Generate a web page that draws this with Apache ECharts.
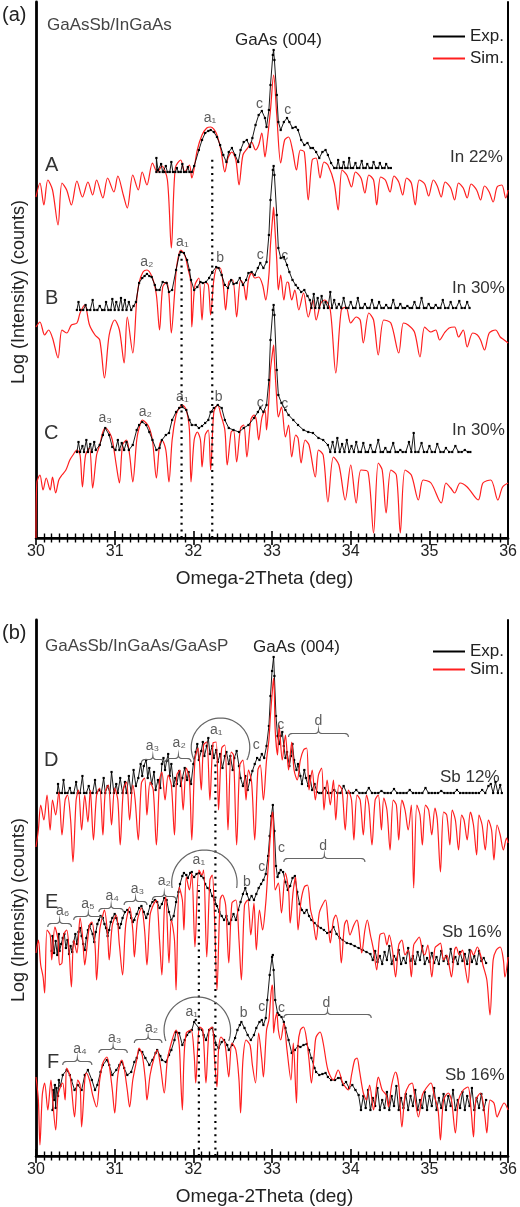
<!DOCTYPE html>
<html>
<head>
<meta charset="utf-8">
<script src="https://cdn.jsdelivr.net/npm/echarts@6/dist/echarts.min.js"></script>
<style>
  html, body { margin: 0; padding: 0; background: #fff; }
  #chart { width: 520px; height: 1207px; }
</style>
</head>
<body>
<div id="chart"></div>
<script>
// x = Omega-2Theta (deg), y = log intensity with offset (arbitrary units, 0..536 per panel)

// ---- panel (a) GaAsSb/InGaAs ----
var simA = [[30.00,341],[30.05,355],[30.10,333],[30.15,358],[30.21,348],[30.28,313],[30.33,355],[30.39,348],[30.45,333],[30.52,357],[30.59,341],[30.66,356],[30.72,343],[30.77,358],[30.85,340],[30.91,360],[30.99,346],[31.04,362],[31.11,343],[31.16,330],[31.23,363],[31.30,348],[31.35,366],[31.41,353],[31.48,375],[31.54,366],[31.60,372],[31.67,358],[31.72,290],[31.77,370],[31.84,378],[31.89,366],[31.95,373],[31.98,360],[32.05,388],[32.11,403],[32.17,410],[32.22,411],[32.29,405],[32.35,388],[32.40,366],[32.44,380],[32.49,386],[32.54,378],[32.58,353],[32.63,383],[32.69,390],[32.74,396],[32.79,388],[32.83,393],[32.87,405],[32.91,381],[32.94,398],[32.98,428],[33.02,463],[33.06,423],[33.11,375],[33.16,398],[33.21,401],[33.26,388],[33.31,368],[33.36,388],[33.41,386],[33.46,338],[33.51,378],[33.56,380],[33.61,360],[33.66,376],[33.71,373],[33.79,355],[33.84,328],[33.89,368],[33.95,363],[34.01,351],[34.06,366],[34.13,360],[34.18,345],[34.23,363],[34.29,358],[34.33,333],[34.38,361],[34.44,358],[34.50,346],[34.55,362],[34.61,356],[34.66,343],[34.71,360],[34.77,355],[34.82,333],[34.87,358],[34.94,354],[34.99,342],[35.05,358],[35.10,352],[35.15,341],[35.20,356],[35.27,350],[35.32,338],[35.37,355],[35.43,350],[35.48,340],[35.53,354],[35.60,348],[35.65,338],[35.70,352],[35.76,346],[35.81,336],[35.86,351],[35.92,353],[35.97,340],[36.00,348]];
var expA = [[31.53,366],[31.53,380],[31.55,368],[31.57,366],[31.59,374],[31.61,366],[31.63,366],[31.65,372],[31.67,366],[31.70,366],[31.72,376],[31.74,366],[31.77,366],[31.79,370],[31.81,366],[31.84,366],[31.86,374],[31.88,366],[31.91,366],[31.93,371],[31.95,366],[31.98,366],[32.01,372],[32.07,388],[32.11,398],[32.15,405],[32.19,407],[32.22,408],[32.26,406],[32.30,401],[32.34,393],[32.38,383],[32.42,376],[32.45,386],[32.49,390],[32.53,383],[32.57,376],[32.60,388],[32.64,396],[32.68,398],[32.72,391],[32.75,400],[32.79,413],[32.83,423],[32.87,427],[32.91,420],[32.93,411],[32.96,428],[32.98,453],[33.01,483],[33.02,488],[33.03,478],[33.06,443],[33.08,416],[33.11,408],[33.15,416],[33.19,420],[33.22,416],[33.26,410],[33.30,411],[33.33,408],[33.37,398],[33.41,393],[33.45,395],[33.49,390],[33.52,390],[33.56,386],[33.60,380],[33.64,386],[33.68,388],[33.71,383],[33.75,375],[33.79,370],[33.82,370],[33.84,378],[33.86,370],[33.89,370],[33.91,376],[33.93,370],[33.96,370],[33.98,380],[34.00,370],[34.03,370],[34.06,375],[34.08,370],[34.11,370],[34.14,377],[34.16,370],[34.19,370],[34.21,374],[34.24,370],[34.27,370],[34.29,376],[34.32,370],[34.35,370],[34.37,375],[34.40,370],[34.43,370],[34.45,374],[34.48,370],[34.51,370]];

var simB = [[30.00,211],[30.05,216],[30.11,203],[30.16,208],[30.21,200],[30.28,180],[30.33,208],[30.39,205],[30.45,213],[30.52,215],[30.56,225],[30.62,233],[30.68,213],[30.75,203],[30.81,198],[30.87,160],[30.93,203],[31.00,218],[31.06,208],[31.12,175],[31.16,221],[31.23,185],[31.28,238],[31.31,255],[31.36,266],[31.41,268],[31.48,260],[31.53,243],[31.57,208],[31.61,251],[31.66,256],[31.69,243],[31.72,205],[31.76,243],[31.79,273],[31.84,288],[31.89,283],[31.93,270],[31.97,255],[31.98,211],[32.02,253],[32.07,260],[32.11,218],[32.15,256],[32.19,253],[32.22,223],[32.26,258],[32.30,270],[32.34,270],[32.38,253],[32.41,228],[32.45,256],[32.50,258],[32.55,221],[32.60,258],[32.64,253],[32.67,238],[32.70,258],[32.74,265],[32.78,260],[32.83,261],[32.88,253],[32.92,238],[32.96,263],[32.98,293],[33.01,323],[33.02,331],[33.03,318],[33.06,278],[33.08,248],[33.11,263],[33.15,238],[33.19,256],[33.21,255],[33.25,238],[33.29,248],[33.34,228],[33.40,245],[33.46,221],[33.52,238],[33.56,218],[33.62,235],[33.67,238],[33.74,228],[33.81,165],[33.88,228],[33.94,231],[34.00,215],[34.07,221],[34.12,218],[34.16,195],[34.23,225],[34.29,218],[34.35,183],[34.42,218],[34.51,215],[34.61,185],[34.67,215],[34.73,213],[34.81,206],[34.88,181],[34.94,211],[35.02,206],[35.08,208],[35.13,198],[35.19,205],[35.25,210],[35.32,211],[35.37,201],[35.43,208],[35.48,191],[35.55,205],[35.61,203],[35.65,198],[35.70,188],[35.76,205],[35.84,208],[35.90,201],[35.95,198],[36.00,195]];
var expB = [[30.52,228],[30.54,236],[30.56,228],[30.60,228],[30.63,233],[30.65,228],[30.69,228],[30.72,238],[30.74,228],[30.78,228],[30.81,232],[30.84,228],[30.87,228],[30.89,236],[30.92,228],[30.95,228],[30.97,239],[31.00,228],[31.02,236],[31.05,228],[31.08,240],[31.10,228],[31.13,238],[31.15,228],[31.18,236],[31.21,228],[31.24,232],[31.27,236],[31.31,255],[31.35,260],[31.38,262],[31.41,264],[31.44,262],[31.47,261],[31.51,253],[31.53,248],[31.57,248],[31.61,256],[31.66,255],[31.69,246],[31.73,248],[31.78,268],[31.82,283],[31.84,286],[31.88,285],[31.92,278],[31.95,268],[31.97,258],[32.01,248],[32.05,251],[32.09,256],[32.12,255],[32.16,256],[32.20,260],[32.24,266],[32.29,271],[32.32,270],[32.36,263],[32.40,253],[32.44,250],[32.48,258],[32.51,254],[32.55,255],[32.59,260],[32.63,253],[32.67,258],[32.70,265],[32.74,266],[32.78,263],[32.82,270],[32.85,275],[32.89,270],[32.93,276],[32.96,303],[32.98,338],[33.01,368],[33.02,372],[33.03,363],[33.06,323],[33.08,290],[33.11,280],[33.15,281],[33.19,273],[33.22,266],[33.26,258],[33.30,253],[33.33,250],[33.37,246],[33.41,248],[33.45,242],[33.48,238],[33.50,230],[33.53,244],[33.55,230],[33.58,240],[33.60,230],[33.63,242],[33.66,230],[33.68,236],[33.71,230],[33.74,246],[33.76,230],[33.79,238],[33.82,230],[33.85,234],[33.88,230],[33.91,240],[33.94,230],[33.97,230],[34.00,236],[34.03,230],[34.06,230],[34.09,240],[34.12,230],[34.15,230],[34.18,234],[34.21,230],[34.24,230],[34.27,238],[34.30,230],[34.33,230],[34.36,236],[34.39,230],[34.42,230],[34.45,233],[34.48,230],[34.51,230],[34.54,238],[34.57,230],[34.60,230],[34.63,234],[34.66,230],[34.69,230],[34.72,232],[34.75,230],[34.78,230],[34.81,236],[34.84,230],[34.87,230],[34.90,240],[34.93,230],[34.96,230],[34.99,234],[35.02,230],[35.05,230],[35.08,233],[35.11,230],[35.14,230],[35.17,238],[35.20,230],[35.24,230],[35.27,236],[35.30,230],[35.34,230],[35.38,237],[35.41,230],[35.45,230],[35.48,236],[35.51,230]];

var simC = [[30.00,0],[30.01,55],[30.05,63],[30.09,48],[30.13,60],[30.18,48],[30.21,61],[30.25,45],[30.29,58],[30.33,63],[30.38,68],[30.43,78],[30.47,83],[30.52,88],[30.56,83],[30.59,51],[30.63,83],[30.68,90],[30.72,50],[30.77,83],[30.81,93],[30.85,106],[30.88,110],[30.93,106],[30.97,98],[31.02,73],[31.06,55],[31.10,93],[31.15,98],[31.19,83],[31.23,56],[31.28,98],[31.31,110],[31.35,118],[31.40,115],[31.44,110],[31.48,98],[31.53,60],[31.57,93],[31.60,98],[31.65,88],[31.69,56],[31.73,98],[31.78,123],[31.82,130],[31.86,133],[31.91,128],[31.95,108],[31.97,56],[32.01,98],[32.05,106],[32.09,98],[32.11,71],[32.15,103],[32.19,108],[32.22,68],[32.26,126],[32.31,133],[32.35,123],[32.40,108],[32.43,73],[32.48,106],[32.51,108],[32.55,76],[32.60,110],[32.64,113],[32.68,81],[32.73,118],[32.77,123],[32.80,118],[32.83,98],[32.87,120],[32.91,128],[32.93,108],[32.96,138],[32.98,168],[33.01,188],[33.02,193],[33.03,178],[33.06,138],[33.08,121],[33.12,131],[33.17,101],[33.21,113],[33.25,81],[33.30,103],[33.33,100],[33.37,75],[33.42,98],[33.47,93],[33.55,61],[33.59,88],[33.65,83],[33.71,36],[33.78,81],[33.85,73],[33.93,38],[34.00,73],[34.07,35],[34.13,68],[34.22,66],[34.29,5],[34.35,75],[34.40,68],[34.45,25],[34.51,68],[34.58,63],[34.63,5],[34.69,68],[34.77,63],[34.86,38],[34.92,58],[35.02,55],[35.15,35],[35.21,55],[35.27,50],[35.32,45],[35.39,55],[35.48,51],[35.62,38],[35.68,55],[35.78,58],[35.87,38],[35.93,51],[36.00,55]];
var expC = [[30.52,86],[30.54,96],[30.56,86],[30.59,92],[30.61,86],[30.64,98],[30.66,86],[30.69,94],[30.71,86],[30.74,96],[30.76,88],[30.81,93],[30.85,103],[30.88,110],[30.93,103],[30.97,91],[31.01,88],[31.04,98],[31.06,88],[31.09,95],[31.12,88],[31.15,96],[31.18,88],[31.23,93],[31.28,108],[31.31,113],[31.35,116],[31.40,113],[31.44,106],[31.48,98],[31.53,88],[31.57,90],[31.60,98],[31.65,103],[31.69,105],[31.73,118],[31.78,126],[31.82,130],[31.86,131],[31.91,128],[31.95,118],[31.98,113],[32.03,113],[32.07,110],[32.11,112],[32.15,115],[32.19,118],[32.22,126],[32.26,130],[32.31,133],[32.36,130],[32.40,118],[32.45,110],[32.51,108],[32.58,106],[32.64,110],[32.70,113],[32.77,120],[32.82,126],[32.85,130],[32.89,126],[32.93,133],[32.96,158],[32.98,198],[33.01,228],[33.02,233],[33.03,223],[33.06,168],[33.08,143],[33.12,135],[33.17,128],[33.21,123],[33.27,118],[33.33,113],[33.40,108],[33.46,106],[33.52,105],[33.59,100],[33.65,98],[33.71,93],[33.74,86],[33.77,96],[33.80,86],[33.83,100],[33.86,86],[33.89,94],[33.92,86],[33.95,98],[33.98,86],[34.01,92],[34.04,86],[34.07,96],[34.10,86],[34.13,86],[34.16,95],[34.19,86],[34.22,86],[34.25,93],[34.28,86],[34.31,86],[34.35,98],[34.38,86],[34.41,86],[34.44,90],[34.47,86],[34.50,86],[34.54,95],[34.57,86],[34.60,86],[34.63,88],[34.66,86],[34.70,86],[34.74,96],[34.77,86],[34.80,105],[34.82,86],[34.86,86],[34.90,95],[34.93,86],[34.97,86],[35.00,92],[35.03,86],[35.07,86],[35.10,94],[35.14,86],[35.18,86],[35.21,90],[35.25,86],[35.29,86],[35.33,92],[35.37,86],[35.41,86],[35.45,88],[35.49,86],[35.52,86]];

// ---- panel (b) GaAsSb/InGaAs/GaAsP ----
var simD = [[30.00,309],[30.03,326],[30.06,351],[30.10,336],[30.14,361],[30.18,326],[30.21,356],[30.25,341],[30.29,364],[30.33,321],[30.37,356],[30.40,361],[30.44,336],[30.47,294],[30.51,356],[30.54,366],[30.58,326],[30.62,361],[30.66,334],[30.69,366],[30.73,316],[30.77,361],[30.81,368],[30.85,321],[30.88,364],[30.92,371],[30.96,331],[31.00,368],[31.04,356],[31.07,311],[31.11,366],[31.15,374],[31.19,336],[31.23,371],[31.26,356],[31.30,316],[31.34,373],[31.38,378],[31.41,341],[31.45,374],[31.49,366],[31.53,311],[31.57,376],[31.60,384],[31.64,356],[31.68,381],[31.72,371],[31.76,321],[31.79,381],[31.83,386],[31.87,346],[31.91,388],[31.95,376],[31.98,316],[32.02,396],[32.06,408],[32.10,366],[32.13,411],[32.17,414],[32.21,356],[32.25,413],[32.29,414],[32.32,346],[32.36,408],[32.40,411],[32.44,326],[32.48,404],[32.51,401],[32.55,311],[32.59,391],[32.63,396],[32.67,356],[32.70,386],[32.74,374],[32.78,316],[32.82,386],[32.85,391],[32.89,356],[32.93,396],[32.96,416],[32.98,441],[33.01,471],[33.02,478],[33.03,461],[33.04,426],[33.07,401],[33.09,431],[33.13,396],[33.17,421],[33.21,386],[33.25,414],[33.28,386],[33.32,376],[33.36,396],[33.40,406],[33.44,408],[33.47,366],[33.51,386],[33.55,356],[33.59,381],[33.63,388],[33.66,346],[33.70,376],[33.74,351],[33.78,376],[33.81,336],[33.85,371],[33.89,366],[33.93,326],[33.97,366],[34.01,356],[34.04,316],[34.08,361],[34.12,356],[34.16,321],[34.20,361],[34.23,351],[34.27,311],[34.31,356],[34.35,361],[34.39,326],[34.42,358],[34.46,346],[34.50,306],[34.54,356],[34.58,351],[34.61,316],[34.65,356],[34.69,346],[34.73,326],[34.77,351],[34.80,268],[34.84,351],[34.88,341],[34.91,311],[34.95,351],[34.99,346],[35.03,321],[35.07,348],[35.10,336],[35.14,284],[35.18,344],[35.22,341],[35.26,311],[35.29,346],[35.33,336],[35.37,306],[35.41,341],[35.44,336],[35.48,316],[35.52,344],[35.56,331],[35.60,301],[35.63,341],[35.67,331],[35.71,306],[35.75,336],[35.79,326],[35.82,296],[35.86,331],[35.90,321],[35.94,306],[35.98,318],[36.00,313]];
var expD = [[30.27,363],[30.28,372],[30.30,363],[30.33,363],[30.35,376],[30.37,363],[30.40,363],[30.43,368],[30.45,363],[30.48,363],[30.51,374],[30.53,363],[30.56,363],[30.59,380],[30.61,363],[30.64,363],[30.67,370],[30.69,363],[30.72,363],[30.75,376],[30.77,363],[30.80,366],[30.83,363],[30.86,378],[30.88,363],[30.91,370],[30.94,363],[30.96,384],[30.99,363],[31.02,372],[31.04,363],[31.07,378],[31.10,363],[31.13,374],[31.15,363],[31.18,380],[31.21,363],[31.24,386],[31.27,370],[31.30,378],[31.33,392],[31.35,380],[31.37,390],[31.40,396],[31.42,378],[31.44,388],[31.47,372],[31.50,384],[31.52,366],[31.55,376],[31.58,368],[31.60,392],[31.62,398],[31.64,386],[31.66,395],[31.68,402],[31.70,380],[31.72,392],[31.75,370],[31.77,378],[31.79,372],[31.82,385],[31.84,370],[31.86,378],[31.89,388],[31.92,376],[31.94,384],[31.97,372],[32.00,392],[32.03,404],[32.05,412],[32.07,396],[32.10,405],[32.12,414],[32.14,400],[32.17,410],[32.19,418],[32.21,402],[32.24,410],[32.26,398],[32.29,406],[32.31,394],[32.34,402],[32.37,388],[32.40,400],[32.42,404],[32.45,392],[32.47,400],[32.50,386],[32.52,398],[32.55,405],[32.58,390],[32.60,378],[32.63,370],[32.66,380],[32.69,366],[32.72,376],[32.75,385],[32.78,392],[32.81,398],[32.84,396],[32.87,402],[32.90,398],[32.93,410],[32.96,430],[32.98,460],[33.00,485],[33.02,499],[33.03,480],[33.05,440],[33.07,420],[33.09,412],[33.11,420],[33.13,424],[33.15,410],[33.17,398],[33.19,404],[33.22,390],[33.24,400],[33.26,412],[33.28,396],[33.31,386],[33.33,392],[33.36,380],[33.38,372],[33.41,386],[33.43,378],[33.46,370],[33.48,380],[33.51,366],[33.54,372],[33.57,364],[33.60,363],[33.63,363],[33.67,368],[33.71,363],[33.75,363],[33.79,366],[33.83,363],[33.87,363],[33.91,370],[33.95,363],[33.99,363],[34.03,363],[34.07,366],[34.11,363],[34.15,363],[34.19,363],[34.23,368],[34.27,363],[34.31,363],[34.35,363],[34.39,365],[34.43,363],[34.47,363],[34.51,363],[34.55,367],[34.59,363],[34.63,363],[34.67,363],[34.71,363],[34.75,366],[34.79,363],[34.83,363],[34.87,363],[34.91,363],[34.95,368],[34.99,363],[35.03,363],[35.07,363],[35.11,363],[35.15,365],[35.19,363],[35.23,363],[35.27,363],[35.31,363],[35.35,366],[35.39,363],[35.43,363],[35.47,363],[35.51,363],[35.55,363],[35.59,363],[35.63,363],[35.67,366],[35.71,363],[35.75,370],[35.78,372],[35.81,363],[35.84,374],[35.87,363],[35.90,371],[35.92,363]];

var simE = [[30.00,203],[30.03,216],[30.06,191],[30.09,179],[30.11,163],[30.14,226],[30.18,221],[30.20,196],[30.24,229],[30.28,216],[30.30,191],[30.33,193],[30.35,221],[30.39,226],[30.42,206],[30.45,169],[30.48,216],[30.52,203],[30.56,238],[30.59,221],[30.62,191],[30.64,203],[30.68,231],[30.71,234],[30.75,211],[30.77,176],[30.81,226],[30.85,241],[30.87,246],[30.91,221],[30.93,196],[30.97,231],[31.02,241],[31.06,211],[31.10,181],[31.14,231],[31.19,249],[31.23,226],[31.25,199],[31.29,236],[31.34,248],[31.38,226],[31.41,191],[31.45,241],[31.49,251],[31.53,256],[31.57,216],[31.60,181],[31.63,246],[31.65,259],[31.69,193],[31.72,236],[31.76,216],[31.78,166],[31.82,269],[31.86,256],[31.88,226],[31.91,279],[31.95,266],[31.98,283],[32.02,209],[32.07,286],[32.11,281],[32.13,286],[32.17,199],[32.21,276],[32.24,281],[32.27,236],[32.30,166],[32.34,256],[32.37,261],[32.41,251],[32.45,193],[32.49,253],[32.54,256],[32.58,216],[32.61,176],[32.65,251],[32.69,256],[32.73,221],[32.77,253],[32.80,206],[32.84,246],[32.88,226],[32.92,253],[32.94,276],[32.97,311],[33.00,341],[33.01,344],[33.02,316],[33.04,266],[33.08,273],[33.12,243],[33.17,283],[33.21,266],[33.23,233],[33.27,266],[33.30,279],[33.33,226],[33.37,256],[33.41,269],[33.45,271],[33.49,246],[33.52,236],[33.56,216],[33.60,243],[33.64,251],[33.68,256],[33.71,236],[33.74,213],[33.78,236],[33.81,241],[33.85,226],[33.88,193],[33.92,231],[33.95,236],[33.99,221],[34.04,231],[34.08,236],[34.10,229],[34.14,203],[34.18,226],[34.21,236],[34.25,221],[34.29,206],[34.33,186],[34.37,221],[34.42,223],[34.46,211],[34.49,221],[34.53,206],[34.57,179],[34.61,211],[34.65,216],[34.69,201],[34.73,206],[34.77,179],[34.80,211],[34.84,216],[34.87,219],[34.91,206],[34.94,201],[34.98,211],[35.03,179],[35.07,208],[35.11,211],[35.14,213],[35.18,196],[35.22,201],[35.25,191],[35.28,179],[35.32,206],[35.34,209],[35.38,201],[35.42,206],[35.45,191],[35.49,173],[35.53,206],[35.56,201],[35.61,209],[35.65,201],[35.68,191],[35.73,176],[35.77,141],[35.81,196],[35.85,206],[35.90,209],[35.94,196],[35.96,179],[36.00,199]];
var expE = [[30.20,205],[30.21,220],[30.23,203],[30.25,215],[30.27,201],[30.29,222],[30.30,205],[30.32,212],[30.34,218],[30.36,222],[30.38,208],[30.40,216],[30.42,202],[30.44,210],[30.46,204],[30.48,214],[30.50,222],[30.52,212],[30.54,224],[30.56,228],[30.58,220],[30.60,212],[30.62,206],[30.64,218],[30.66,226],[30.68,230],[30.70,232],[30.72,222],[30.74,214],[30.76,224],[30.78,232],[30.80,236],[30.82,240],[30.85,238],[30.87,232],[30.89,228],[30.91,220],[30.93,226],[30.95,234],[30.97,238],[31.00,242],[31.02,238],[31.04,232],[31.06,228],[31.08,232],[31.10,238],[31.13,244],[31.16,246],[31.19,244],[31.21,238],[31.23,234],[31.25,236],[31.28,242],[31.31,248],[31.34,250],[31.37,244],[31.40,238],[31.42,242],[31.45,250],[31.48,254],[31.51,256],[31.54,254],[31.57,248],[31.60,252],[31.63,258],[31.66,256],[31.69,244],[31.72,236],[31.75,240],[31.78,254],[31.81,264],[31.83,272],[31.86,280],[31.88,283],[31.91,281],[31.93,278],[31.96,283],[31.98,284],[32.01,279],[32.04,282],[32.07,283],[32.10,280],[32.13,278],[32.15,272],[32.18,268],[32.21,266],[32.24,260],[32.27,256],[32.30,250],[32.33,244],[32.36,240],[32.39,236],[32.42,240],[32.45,232],[32.48,236],[32.51,242],[32.54,236],[32.57,246],[32.60,254],[32.63,262],[32.66,268],[32.68,262],[32.71,256],[32.74,260],[32.77,256],[32.80,262],[32.83,268],[32.86,272],[32.89,276],[32.92,282],[32.95,300],[32.97,320],[32.99,340],[33.01,351],[33.03,325],[33.05,290],[33.07,279],[33.09,283],[33.11,286],[33.14,284],[33.17,274],[33.20,266],[33.23,270],[33.26,278],[33.29,280],[33.32,264],[33.35,252],[33.38,246],[33.41,243],[33.44,246],[33.47,240],[33.50,236],[33.54,233],[33.58,230],[33.62,228],[33.66,226],[33.70,223],[33.74,224],[33.78,229],[33.82,222],[33.86,218],[33.90,216],[33.95,213],[34.00,212],[34.05,210],[34.10,208],[34.15,206],[34.20,204],[34.25,202],[34.28,196],[34.31,205],[34.34,194],[34.37,200],[34.40,192],[34.43,204],[34.46,196],[34.49,210],[34.52,192],[34.55,200],[34.58,196],[34.61,206],[34.64,192],[34.67,198],[34.70,193],[34.73,208],[34.76,195],[34.79,200],[34.82,192],[34.85,204],[34.88,196],[34.91,210],[34.94,192],[34.97,198],[35.00,194],[35.03,203],[35.06,193],[35.09,199],[35.12,192],[35.15,205],[35.18,195],[35.21,200],[35.24,192],[35.27,207],[35.30,194],[35.33,199],[35.36,192],[35.39,204],[35.42,195],[35.45,202],[35.48,192],[35.51,206],[35.54,194],[35.57,200],[35.60,192],[35.63,205],[35.66,195],[35.69,198],[35.72,193]];

var simF = [[30.00,79],[30.03,56],[30.05,11],[30.08,61],[30.11,73],[30.15,46],[30.19,76],[30.21,58],[30.25,26],[30.28,61],[30.32,71],[30.34,73],[30.37,56],[30.39,88],[30.43,81],[30.45,69],[30.49,39],[30.53,76],[30.56,71],[30.58,29],[30.62,76],[30.64,83],[30.68,76],[30.72,61],[30.77,49],[30.81,76],[30.85,93],[30.90,99],[30.93,91],[30.97,66],[31.00,43],[31.04,81],[31.09,96],[31.12,88],[31.16,66],[31.19,49],[31.23,76],[31.28,96],[31.31,108],[31.35,101],[31.39,76],[31.41,56],[31.45,81],[31.50,98],[31.54,106],[31.58,91],[31.63,63],[31.67,96],[31.73,116],[31.78,126],[31.82,111],[31.84,76],[31.86,46],[31.88,96],[31.91,123],[31.97,126],[32.01,101],[32.03,73],[32.06,116],[32.08,129],[32.12,126],[32.16,73],[32.20,126],[32.24,129],[32.27,96],[32.30,69],[32.32,106],[32.35,119],[32.40,113],[32.45,79],[32.49,113],[32.54,106],[32.58,76],[32.60,43],[32.63,96],[32.67,116],[32.72,111],[32.75,91],[32.79,73],[32.83,123],[32.87,96],[32.89,79],[32.93,126],[32.96,136],[32.98,156],[33.00,171],[33.01,166],[33.02,123],[33.04,136],[33.06,143],[33.08,126],[33.11,116],[33.15,133],[33.19,106],[33.24,76],[33.27,113],[33.31,53],[33.33,111],[33.36,126],[33.40,129],[33.44,116],[33.47,96],[33.50,73],[33.54,106],[33.56,119],[33.61,124],[33.65,113],[33.71,86],[33.78,76],[33.84,86],[33.90,73],[33.97,66],[34.01,81],[34.05,96],[34.08,98],[34.11,86],[34.16,63],[34.20,56],[34.24,71],[34.29,46],[34.33,71],[34.35,79],[34.40,66],[34.45,61],[34.48,49],[34.52,71],[34.57,84],[34.61,71],[34.65,29],[34.69,61],[34.74,71],[34.78,73],[34.81,61],[34.86,39],[34.91,61],[34.96,68],[35.02,73],[35.06,61],[35.11,46],[35.14,16],[35.18,56],[35.24,63],[35.28,56],[35.33,23],[35.37,56],[35.43,66],[35.49,69],[35.53,46],[35.56,19],[35.59,56],[35.65,63],[35.70,43],[35.73,23],[35.77,56],[35.82,53],[35.86,39],[35.90,46],[35.95,53],[36.00,46]];
var expF = [[30.21,46],[30.22,66],[30.23,56],[30.24,71],[30.25,48],[30.26,68],[30.28,60],[30.29,76],[30.31,70],[30.34,81],[30.39,86],[30.43,81],[30.45,76],[30.49,66],[30.53,71],[30.58,66],[30.62,81],[30.66,86],[30.71,76],[30.75,66],[30.78,71],[30.82,84],[30.85,91],[30.90,96],[30.93,91],[30.97,81],[31.02,86],[31.06,91],[31.09,94],[31.12,88],[31.16,81],[31.21,84],[31.25,94],[31.28,98],[31.31,106],[31.35,104],[31.39,98],[31.44,91],[31.48,96],[31.52,103],[31.54,106],[31.58,100],[31.60,96],[31.65,94],[31.69,101],[31.72,106],[31.76,116],[31.78,124],[31.82,123],[31.86,111],[31.89,116],[31.92,121],[31.95,124],[31.98,126],[32.01,134],[32.03,136],[32.07,128],[32.11,126],[32.13,121],[32.16,116],[32.20,126],[32.24,128],[32.26,121],[32.29,111],[32.32,108],[32.36,114],[32.39,116],[32.43,111],[32.45,106],[32.49,111],[32.53,118],[32.56,126],[32.59,131],[32.61,134],[32.65,128],[32.69,121],[32.73,116],[32.77,121],[32.80,128],[32.84,134],[32.87,136],[32.89,131],[32.92,138],[32.94,156],[32.97,181],[33.00,199],[33.01,201],[33.02,186],[33.04,156],[33.07,143],[33.09,141],[33.12,139],[33.15,134],[33.17,128],[33.21,116],[33.25,103],[33.29,106],[33.33,110],[33.36,109],[33.40,111],[33.44,112],[33.47,106],[33.50,98],[33.54,88],[33.56,84],[33.60,81],[33.64,82],[33.68,83],[33.71,79],[33.75,76],[33.80,76],[33.84,78],[33.87,78],[33.90,71],[33.94,74],[33.98,68],[34.02,71],[34.06,66],[34.10,61],[34.13,46],[34.16,60],[34.19,48],[34.22,66],[34.25,46],[34.28,58],[34.31,50],[34.34,68],[34.37,46],[34.40,56],[34.43,48],[34.46,64],[34.49,46],[34.52,60],[34.55,50],[34.58,70],[34.61,46],[34.64,58],[34.67,48],[34.70,62],[34.73,46],[34.76,60],[34.79,50],[34.82,66],[34.85,46],[34.88,56],[34.91,48],[34.94,64],[34.97,46],[35.00,60],[35.03,50],[35.06,68],[35.09,46],[35.12,58],[35.15,48],[35.18,62],[35.21,46],[35.24,60],[35.27,50],[35.30,66],[35.33,46],[35.36,56],[35.39,48],[35.42,64],[35.45,46],[35.48,60],[35.51,50],[35.54,68],[35.57,46],[35.60,58],[35.63,48],[35.66,62],[35.69,46],[35.72,56]];

// vertical guide lines: [position, top level]
var guidesA = [[31.85, 280], [32.24, 381]];
var guidesB = [[32.07, 271], [32.28, 396]];

// peak labels: [x, level, text]
var notesA = [
  [32.21, 420, 'a\u2081'], [32.84, 434, 'c'], [33.20, 428, 'c'],
  [31.41, 276, 'a\u2082'], [31.86, 296, 'a\u2081'], [32.34, 280, 'b'], [32.85, 283, 'c'], [33.16, 282, 'c'],
  [30.88, 120, 'a\u2083'], [31.39, 126, 'a\u2082'], [31.86, 141, 'a\u2081'], [32.32, 141, 'b'], [32.85, 135, 'c'], [33.16, 134, 'c']
];
var notesB = [
  [31.48, 410, 'a\u2083'], [31.82, 413, 'a\u2082'], [32.29, 426, 'a\u2081'], [32.80, 411, 'c'], [33.11, 431, 'c'], [33.59, 435, 'd'],
  [30.34, 245, 'a\u2086'], [30.66, 252, 'a\u2085'], [30.97, 260, 'a\u2084'], [31.29, 267, 'a\u2083'], [31.63, 275, 'a\u2082'],
  [32.07, 296, 'a\u2081'], [32.68, 274, 'b'], [32.87, 289, 'c'], [33.12, 308, 'c'], [33.65, 310, 'd'],
  [30.56, 107, 'a\u2084'], [31.00, 118, 'a\u2083'], [31.47, 128, 'a\u2082'], [31.98, 144, 'a\u2081'], [32.64, 143, 'b'],
  [32.87, 149, 'c'], [33.12, 148, 'c'], [33.69, 153, 'd']
];
// braces over fringe groups: [x from, x to, level]
var bracesB = [
  [31.34, 31.63, 393], [31.65, 31.97, 394], [33.21, 33.97, 419],
  [30.15, 30.45, 229], [30.48, 30.85, 236], [30.80, 31.11, 244], [31.12, 31.41, 251], [31.48, 31.78, 256], [33.15, 34.18, 294],
  [30.34, 30.71, 91], [30.80, 31.16, 103], [31.25, 31.60, 113], [33.15, 34.26, 138]
];
// arcs round the a1 envelope: [x from, x to, level at ends, level at top]
var arcsB = [[32.01, 32.68, 396, 438], [31.73, 32.55, 268, 306], [31.65, 32.45, 115, 159]];

var FONT = "'Liberation Sans', Arial, sans-serif";
var RED = '#ff1f1f';

var chartDom = document.getElementById('chart');
var myChart = echarts.init(chartDom);

function quad(pts, p0, c, p1) {
  for (var i = 0; i <= 6; i++) {
    var t = i / 6, u = 1 - t;
    pts.push([u * u * p0[0] + 2 * u * t * c[0] + t * t * p1[0], u * u * p0[1] + 2 * u * t * c[1] + t * t * p1[1]]);
  }
}

function simSeries(data, idx) {
  return {
    name: 'Sim.', type: 'line', xAxisIndex: idx, yAxisIndex: idx, data: data,
    color: RED, symbol: 'none', z: idx === 0 ? 2 : 4, smooth: 0.3,
    lineStyle: { color: RED, width: 1.2 }
  };
}
function expSeries(data, idx) {
  return {
    name: 'Exp.', type: 'line', xAxisIndex: idx, yAxisIndex: idx, data: data,
    color: '#000', symbol: 'rect', symbolSize: 2.2, showAllSymbol: true, z: 3,
    itemStyle: { color: '#000' },
    lineStyle: { color: '#000', width: 0.9 }
  };
}
function guideSeries(g, idx) {
  return {
    type: 'line', xAxisIndex: idx, yAxisIndex: idx, silent: true, symbol: 'none', z: 5,
    data: [[g[0], 0], [g[0], g[1]]],
    lineStyle: { color: '#000', width: 2.2, type: [2, 4.6] }
  };
}
function noteSeries(list, idx) {
  return {
    type: 'scatter', xAxisIndex: idx, yAxisIndex: idx, silent: true, z: 6,
    symbolSize: 1, itemStyle: { color: 'transparent' },
    label: { show: true, position: 'inside', formatter: '{b}', fontSize: 14, color: '#333', fontFamily: FONT },
    data: list.map(function (n) { return { name: n[2], value: [n[0], n[1]] }; })
  };
}
function braceSeries(list, idx) {
  return {
    type: 'custom', xAxisIndex: idx, yAxisIndex: idx, silent: true, z: 6, data: list,
    renderItem: function (params, api) {
      var a = api.coord([api.value(0), api.value(2)]);
      var b = api.coord([api.value(1), api.value(2)]);
      var y = a[1], m = (a[0] + b[0]) / 2, h = 3.5, r = 4;
      var pts = [];
      quad(pts, [a[0], y], [a[0], y - h], [a[0] + r, y - h]);
      quad(pts, [m - r, y - h], [m, y - h], [m, y - 2 * h]);
      quad(pts, [m, y - 2 * h], [m, y - h], [m + r, y - h]);
      quad(pts, [b[0] - r, y - h], [b[0], y - h], [b[0], y]);
      return { type: 'polyline', shape: { points: pts }, style: { stroke: '#666', fill: null, lineWidth: 1.2 } };
    }
  };
}
function arcSeries(list, idx) {
  return {
    type: 'custom', xAxisIndex: idx, yAxisIndex: idx, silent: true, z: 6, data: list,
    renderItem: function (params, api) {
      var p1 = api.coord([api.value(0), api.value(2)]);
      var p2 = api.coord([api.value(1), api.value(2)]);
      var pt = api.coord([(api.value(0) + api.value(1)) / 2, api.value(3)]);
      var cx = (p1[0] + p2[0]) / 2, w = (p2[0] - p1[0]) / 2, hgt = (p1[1] + p2[1]) / 2 - pt[1];
      var r = (w * w + hgt * hgt) / (2 * hgt), cy = pt[1] + r;
      var a1 = Math.atan2(p1[1] - cy, p1[0] - cx), a2 = Math.atan2(p2[1] - cy, p2[0] - cx);
      if (a1 < 0) a1 += 2 * Math.PI;
      if (a2 < a1) a2 += 2 * Math.PI;
      var pts = [];
      for (var i = 0; i <= 48; i++) {
        var t = a1 + (a2 - a1) * i / 48;
        pts.push([cx + r * Math.cos(t), cy + r * Math.sin(t)]);
      }
      return { type: 'polyline', shape: { points: pts }, style: { stroke: '#666', fill: null, lineWidth: 1.2 } };
    }
  };
}

function bottomAxis(gi) {
  return {
    gridIndex: gi, type: 'value', min: 30, max: 36, interval: 1, position: 'bottom',
    name: 'Omega-2Theta (deg)', nameLocation: 'middle', nameGap: 31,
    nameTextStyle: { fontSize: 19, color: '#222', fontFamily: FONT, padding: [0, 15, 0, 0] },
    axisLine: { lineStyle: { color: '#000', width: 2.5 } },
    axisTick: { inside: true, length: 7, lineStyle: { color: '#000', width: 1.6 } },
    minorTick: { show: true, splitNumber: 10, length: 4.5, lineStyle: { color: '#000', width: 1.4 } },
    axisLabel: { fontSize: 16, color: '#222', margin: 6, fontFamily: FONT },
    splitLine: { show: false }
  };
}
function topAxis(gi) {
  return {
    gridIndex: gi, type: 'value', min: 30, max: 36, interval: 1, position: 'top',
    axisLine: { lineStyle: { color: '#000', width: 2 } },
    axisTick: { inside: true, length: 7, lineStyle: { color: '#000', width: 1.6 } },
    minorTick: { show: true, splitNumber: 10, length: 4.5, lineStyle: { color: '#000', width: 1.4 } },
    axisLabel: { show: false },
    splitLine: { show: false }
  };
}
function sideAxis(gi, pos) {
  return {
    gridIndex: gi, type: 'value', min: 0, max: 536, position: pos,
    axisLine: { show: true, lineStyle: { color: '#000', width: pos === 'left' ? 2.8 : 2 } },
    axisTick: { show: false }, axisLabel: { show: false }, splitLine: { show: false }
  };
}

function txt(x, y, s, size, color) {
  return {
    type: 'text', x: x, y: y, silent: true,
    style: { text: s, fontSize: size, fontFamily: FONT, fill: color || '#333', verticalAlign: 'middle' }
  };
}
function ytitle(y) {
  return {
    type: 'text', x: 19, y: y, rotation: Math.PI / 2, silent: true,
    style: { text: 'Log (Intensity) (counts)', fontSize: 18, fontFamily: FONT, fill: '#222', align: 'center', verticalAlign: 'middle' }
  };
}

var legendBase = {
  data: ['Exp.', 'Sim.'], orient: 'vertical', left: 428, icon: 'rect',
  itemWidth: 32, itemHeight: 2, selectedMode: false,
  textStyle: { fontSize: 17, color: '#222', fontFamily: FONT }
};

var series = [];
series.push(simSeries(simA, 0), simSeries(simB, 0), simSeries(simC, 0));
series.push(expSeries(expA, 0), expSeries(expB, 0), expSeries(expC, 0));
guidesA.forEach(function (g) { series.push(guideSeries(g, 0)); });
series.push(noteSeries(notesA, 0));

// panel (b) series sit on the second grid's axes (index 2)
var bS = [];
bS.push(expSeries(expD, 1), expSeries(expE, 1), expSeries(expF, 1));
bS.push(simSeries(simD, 1), simSeries(simE, 1), simSeries(simF, 1));
guidesB.forEach(function (g) { bS.push(guideSeries(g, 1)); });
bS.push(noteSeries(notesB, 1), braceSeries(bracesB, 1), arcSeries(arcsB, 1));
bS.forEach(function (s) { s.xAxisIndex = 2; s.yAxisIndex = 2; series.push(s); });

var option = {
  animation: false,
  backgroundColor: '#fff',
  textStyle: { fontFamily: FONT },
  grid: [
    { left: 36, top: 2, width: 475, height: 536 },
    { left: 36, top: 620, width: 475, height: 536 }
  ],
  xAxis: [bottomAxis(0), topAxis(0), bottomAxis(1), topAxis(1)],
  yAxis: [sideAxis(0, 'left'), sideAxis(0, 'right'), sideAxis(1, 'left'), sideAxis(1, 'right')],
  legend: [
    Object.assign({}, legendBase, { top: 23, itemGap: 5 }),
    Object.assign({}, legendBase, { top: 638, itemGap: 1 })
  ],
  graphic: [
    txt(2, 15, '(a)', 20, '#222'),
    txt(47, 25, 'GaAsSb/InGaAs', 17, '#444'),
    txt(235, 40, 'GaAs (004)', 17, '#222'),
    txt(45, 165, 'A', 20), txt(45, 298, 'B', 20), txt(44, 433, 'C', 20),
    txt(450, 157, 'In 22%', 17), txt(452, 288, 'In 30%', 17), txt(452, 430, 'In 30%', 17),
    ytitle(292),
    txt(2, 633, '(b)', 20, '#222'),
    txt(45, 646, 'GaAsSb/InGaAs/GaAsP', 17, '#444'),
    txt(253, 647, 'GaAs (004)', 17, '#222'),
    txt(44, 760, 'D', 20), txt(45, 902, 'E', 20), txt(47, 1062, 'F', 20),
    txt(440, 777, 'Sb 12%', 17), txt(442, 932, 'Sb 16%', 17), txt(445, 1075, 'Sb 16%', 17),
    ytitle(910)
  ],
  series: series
};
myChart.setOption(option);
</script>
</body>
</html>
